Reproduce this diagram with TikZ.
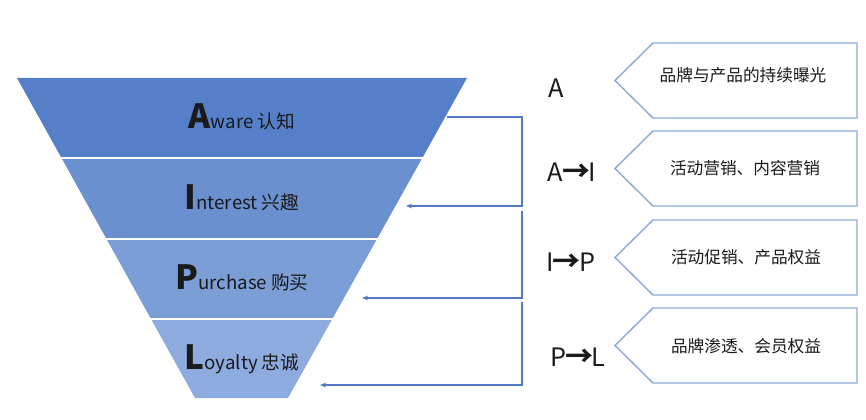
\documentclass[tikz,border=0pt]{standalone}
\usepackage{fontspec}
\setmainfont{Noto Sans CJK SC}
\usetikzlibrary{arrows.meta}
\definecolor{bandA}{HTML}{5580C9}
\definecolor{bandB}{HTML}{6A90D0}
\definecolor{bandC}{HTML}{7C9ED7}
\definecolor{bandD}{HTML}{8DABDE}
\definecolor{connblue}{HTML}{5479C4}
\definecolor{boxblue}{HTML}{8FAADC}
\definecolor{txt}{HTML}{1A1A1A}
\tikzset{
  stage/.style={text=txt, inner sep=0pt, anchor=center},
  conn/.style={draw=connblue, line width=0.8pt, -{Stealth[length=4.5pt,width=3.5pt]}},
  pent/.style={draw=boxblue, line width=1.1pt, fill=white, line join=miter},
  boxtext/.style={text=txt, inner sep=0pt, font=\fontsize{12.5}{14}\selectfont},
  steplabel/.style={text=txt, inner sep=0pt, font=\fontsize{19}{22}\selectfont},
  sep/.style={draw=white, line width=1.6pt}
}
\newcommand{\stagetext}[2]{{\fontsize{25}{28}\bfseries #1}{\fontsize{14}{16}\selectfont #2}}
\newcommand{\thickarrow}{\kern-1pt{\bfseries\fontsize{21}{22}\selectfont →}\kern-1pt}
\begin{document}
\begin{tikzpicture}[x=0.75pt,y=-0.75pt]
\useasboundingbox (0,0) rectangle (866,420);
% funnel bands
\fill[bandA] (17,78) -- (467,78) -- (422.3,158) -- (61.5,158) -- cycle;
\fill[bandB] (61.5,158) -- (422.3,158) -- (377,239) -- (106.5,239) -- cycle;
\fill[bandC] (106.5,239) -- (377,239) -- (332.3,319) -- (151,319) -- cycle;
\fill[bandD] (151,319) -- (332.3,319) -- (288,398) -- (195,398) -- cycle;
\draw[sep] (55,158) -- (430,158);
\draw[sep] (100,239) -- (385,239);
\draw[sep] (145,319) -- (340,319);
% stage texts
\node[stage] (aware) at (242,117) {\stagetext{A}{ware 认知}};
\node[stage] (interest) at (242,198) {\stagetext{I}{nterest 兴趣}};
\node[stage] (purchase) at (242,278) {\stagetext{P}{urchase 购买}};
\node[stage] (loyalty) at (242,359) {\stagetext{L}{oyalty 忠诚}};
% connectors
\coordinate (s1) at (447,117);
\coordinate (k1) at (522,206);
\coordinate (e1) at (406,206);
\coordinate (s2) at (522,211);
\coordinate (k2) at (522,298);
\coordinate (e2) at (362,298);
\coordinate (s3) at (522,302);
\coordinate (k3) at (522,385);
\coordinate (e3) at (320,385);
\draw[conn] (s1) -| (k1) -- (e1);
\draw[conn] (s2) -- (k2) -- (e2);
\draw[conn] (s3) -- (k3) -- (e3);
% step labels
\node[steplabel] (lA) at (556,88) {A};
\node[steplabel] (lAI) at (572,172) {A\thickarrow I};
\node[steplabel] (lIP) at (571,262) {I\thickarrow P};
\node[steplabel] (lPL) at (578,357) {P\thickarrow L};
% pentagon boxes
\draw[pent] (615,80.5) -- (653,43) -- (857,43) -- (857,118) -- (653,118) -- cycle;
\node[boxtext] (b1) at (743,75) {品牌与产品的持续曝光};
\draw[pent] (615,168.5) -- (653,131) -- (857,131) -- (857,206) -- (653,206) -- cycle;
\node[boxtext] (b2) at (745,168) {活动营销、内容营销};
\draw[pent] (615,257.5) -- (653,220) -- (857,220) -- (857,295) -- (653,295) -- cycle;
\node[boxtext] (b3) at (746,257) {活动促销、产品权益};
\draw[pent] (615,345.5) -- (653,308) -- (857,308) -- (857,383) -- (653,383) -- cycle;
\node[boxtext] (b4) at (746,346) {品牌渗透、会员权益};
\end{tikzpicture}
\end{document}
